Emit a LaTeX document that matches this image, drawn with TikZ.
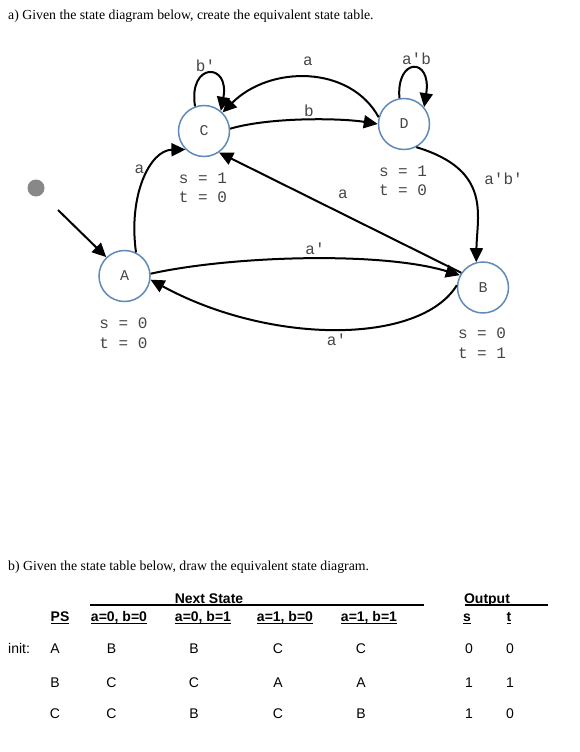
\documentclass[tikz,border=0pt]{standalone}
\usepackage{fontspec}
\setmainfont{Liberation Serif}
\newfontfamily\tblfont{Liberation Sans}
\newfontfamily\dgfont{Liberation Mono}
\usetikzlibrary{arrows.meta}
\definecolor{nodeblue}{RGB}{95,138,185}
\definecolor{lblgray}{RGB}{70,70,70}
\definecolor{dotgray}{RGB}{136,136,136}
\newcommand\ulu[1]{\setbox0\hbox{#1}\rlap{\rule[-2.6pt]{\wd0}{1.3pt}}\box0}
\begin{document}
\begin{tikzpicture}[x=1pt,y=-1pt,
  state/.style={circle,draw=nodeblue,line width=1.5pt,minimum size=51pt,inner sep=0pt,font=\dgfont\fontsize{15}{15}\selectfont,text=lblgray},
  lbl/.style={inner sep=0pt,font=\dgfont\fontsize{16}{16}\selectfont,text=lblgray},
  edge/.style={line width=2pt,-{Triangle[length=14pt,width=13pt]}},
  title/.style={anchor=base west,inner sep=0pt,font=\fontsize{13.8}{15}\selectfont},
  th/.style={anchor=base,inner sep=0pt,font=\tblfont\bfseries\fontsize{14}{14}\selectfont},
  td/.style={anchor=base,inner sep=0pt,font=\tblfont\fontsize{14}{14}\selectfont},
  rulew/.style={line width=1.3pt},
]
\useasboundingbox (0,0) rectangle (579,752);

% titles
\node[title] (ta) at (8,19.5) {a) Given the state diagram below, create the equivalent state table.};
\node[title] (tb) at (8,570) {b) Given the state table below, draw the equivalent state diagram.};

% states
\node[state] (C) at (204,131) {C};
\node[state] (D) at (404,124) {D};
\node[state] (A) at (124.5,276) {A};
\node[state] (B) at (483,287.5) {B};
\fill[dotgray] (36,188) circle (8.5pt);
\coordinate (start) at (58,210);

% outputs
\node[lbl] (cs) at (203,178) {s = 1};
\node[lbl] (ct) at (203,197.5) {t = 0};
\node[lbl] (ds) at (403,171) {s = 1};
\node[lbl] (dt) at (403,190.5) {t = 0};
\node[lbl] (as) at (123.5,323.5) {s = 0};
\node[lbl] (at) at (123.5,343.5) {t = 0};
\node[lbl] (bs) at (482,333.5) {s = 0};
\node[lbl] (bt) at (482,353.5) {t = 1};

% edges
\draw[edge] (start) -- (A.134);
\draw[edge] (C.110) .. controls (188,62) and (230,62) .. (C.50);
\draw[edge] (D.100) .. controls (396,57) and (432,57) .. (D.40);
\draw[edge] (C.5) .. controls (270,117) and (340,118) .. (D.180);
\draw[edge] (D.165) .. controls (350,65) and (270,65) .. (C.45);
\draw[edge] (A.64) .. controls (128,195) and (150,150) .. (C.225);
\draw[edge] (B.146) -- (C.-55);
\draw[edge] (D.-62) .. controls (492,170) and (477,215) .. (B.105);
\draw[edge] (A.5) .. controls (230,256) and (380,251) .. (B.152);
\draw[edge] (B.175) .. controls (420,345) and (270,345) .. (A.-8);

% edge labels
\node[lbl] (lcc) at (205.5,66) {b'};
\node[lbl] (ldc) at (308,61.5) {a};
\node[lbl] (lcd) at (309,111) {b};
\node[lbl] (lac) at (139.5,169) {a};
\node[lbl] (lbc) at (343,194.5) {a};
\node[lbl] (ldd) at (416.5,58.5) {a'b};
\node[lbl] (ldb) at (503.5,179) {a'b'};
\node[lbl] (lab) at (315,248.5) {a'};
\node[lbl] (lba) at (336.5,340) {a'};

% table
\node[th] (hns) at (209,603) {Next State};
\node[th] (hout) at (487,603) {Output};
\draw[rulew] (90,605) -- (424,605);
\draw[rulew] (465,605) -- (548,605);
\node[th] (hps) at (60,621.5) {\ulu{PS}};
\node[th] (h1) at (119,621.5) {\ulu{a=0, b=0}};
\node[th] (h2) at (203,621.5) {\ulu{a=0, b=1}};
\node[th] (h3) at (285,621.5) {\ulu{a=1, b=0}};
\node[th] (h4) at (369,621.5) {\ulu{a=1, b=1}};
\node[th] (hs) at (467,621.5) {\ulu{s}};
\node[th] (ht) at (509,621.5) {\ulu{t}};

\node[td,anchor=base west] (tinit) at (8,653) {init:};
\foreach \r/\y/\p/\a/\b/\c/\d/\s/\t in {1/653/A/B/B/C/C/0/0, 2/687/B/C/C/A/A/1/1, 3/718/C/C/B/C/B/1/0}{
  \node[td] (r\r p) at (55,\y) {\p};
  \node[td] (r\r a) at (111.5,\y) {\a};
  \node[td] (r\r b) at (194,\y) {\b};
  \node[td] (r\r c) at (278,\y) {\c};
  \node[td] (r\r d) at (361,\y) {\d};
  \node[td] (r\r s) at (469,\y) {\s};
  \node[td] (r\r t) at (510,\y) {\t};
}
\end{tikzpicture}
\end{document}
